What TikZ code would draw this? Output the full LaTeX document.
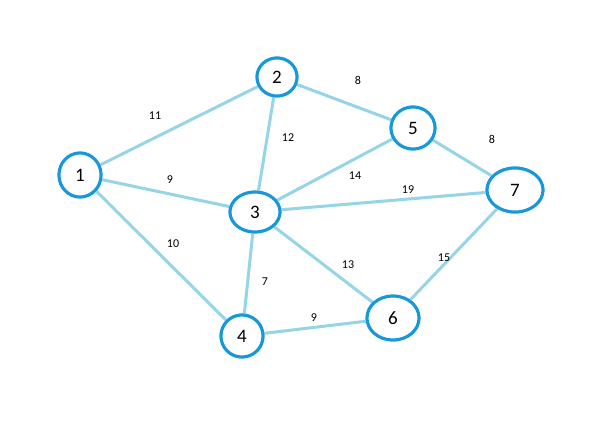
\documentclass[tikz,border=0pt]{standalone}
\usepackage{fontspec}
\setmainfont{Carlito}
\usetikzlibrary{shapes.geometric}
\definecolor{edgec}{RGB}{150,212,232}
\definecolor{nodec}{RGB}{22,152,218}
\begin{document}
\begin{tikzpicture}[x=1pt,y=-1pt,
  vert/.style={ellipse,draw=nodec,line width=3pt,fill=white,inner sep=0pt,font=\fontsize{19}{19}\selectfont},
  edge/.style={draw=edgec,line width=3pt},
  wl/.style={font=\fontsize{12}{12}\selectfont}]
\useasboundingbox (0,0) rectangle (608,422);
\fill[white] (0,0) rectangle (608,422);
\node[vert,minimum width=42,minimum height=44] (n1) at (80,175) {1};
\node[vert,minimum width=40,minimum height=38] (n2) at (277,77) {2};
\node[vert,minimum width=44,minimum height=42] (n5) at (413,128) {5};
\node[vert,minimum width=56,minimum height=44] (n7) at (515,190) {7};
\node[vert,minimum width=50,minimum height=40] (n3) at (255,212) {3};
\node[vert,minimum width=42,minimum height=42] (n4) at (242,336) {4};
\node[vert,minimum width=52,minimum height=44] (n6) at (393,318) {6};
\begin{scope}[on background layer/.style={}]
\end{scope}
\begin{pgfinterruptboundingbox}\end{pgfinterruptboundingbox}
\path[edge] (n1) -- (n2) (n2) -- (n5) (n2) -- (n3) (n5) -- (n7) (n1) -- (n3)
  (n5) -- (n3) (n3) -- (n7) (n1) -- (n4) (n3) -- (n6) (n7) -- (n6) (n3) -- (n4) (n4) -- (n6);
\node[vert,minimum width=42,minimum height=44] at (80,175) {1};
\node[vert,minimum width=40,minimum height=38] at (277,77) {2};
\node[vert,minimum width=44,minimum height=42] at (413,128) {5};
\node[vert,minimum width=56,minimum height=44] at (515,190) {7};
\node[vert,minimum width=50,minimum height=40] at (255,212) {3};
\node[vert,minimum width=42,minimum height=42] at (242,336) {4};
\node[vert,minimum width=52,minimum height=44] at (393,318) {6};
\node[wl] (l1) at (155,116) {11};
\node[wl] (l2) at (358,80) {8};
\node[wl] (l3) at (288,138) {12};
\node[wl] (l4) at (492,139) {8};
\node[wl] (l5) at (170,180) {9};
\node[wl] (l6) at (355,176) {14};
\node[wl] (l7) at (408,190) {19};
\node[wl] (l8) at (173,244) {10};
\node[wl] (l9) at (348,265) {13};
\node[wl] (l10) at (444,258) {15};
\node[wl] (l11) at (265,282) {7};
\node[wl] (l12) at (314,318) {9};
\end{tikzpicture}
\end{document}
